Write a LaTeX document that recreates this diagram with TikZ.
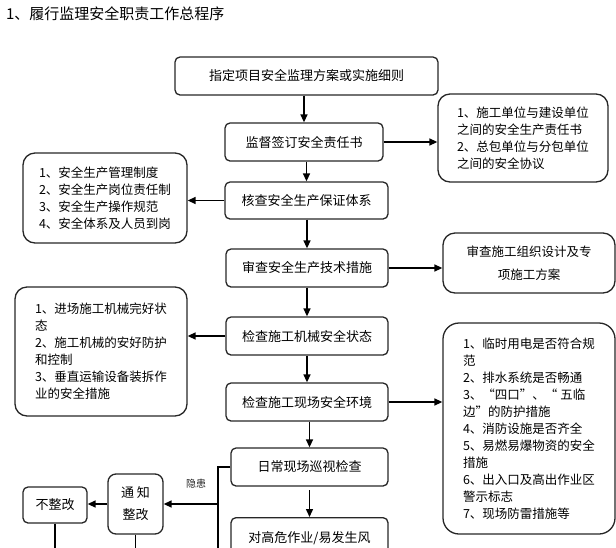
\documentclass[tikz,border=0pt]{standalone}
\usepackage{fontspec}
\setmainfont{Noto Sans CJK SC}
\usetikzlibrary{arrows.meta}

\begin{document}
\begin{tikzpicture}[x=1pt, y=-1pt, line width=1.4pt,
    mainbox/.style={draw=black!85, line width=1.3pt, rounded corners=5pt, inner sep=0pt,
      align=center, font=\fontsize{13}{17}\selectfont},
    sidebox/.style={draw=black!85, line width=1.3pt, rounded corners=12pt, inner sep=0pt,
      align=left, font=\fontsize{12.5}{17}\selectfont},
    arr/.style={-{Triangle[length=8pt, width=7pt]}, line width=1.4pt}]
    \useasboundingbox (0,0) rectangle (616,547);
    \clip (0,0) rectangle (616,547);

    % draw title
    \node[anchor=west, font=\fontsize{15}{18}\selectfont] (title) at (2,14) {1、履行监理安全职责工作总程序};

    % draw main boxes
    \node[mainbox, minimum width=263pt, minimum height=38pt] (plan) at (306.5,76) {指定项目安全监理方案或实施细则};
    \node[mainbox, minimum width=158pt, minimum height=38pt] (sign) at (304,142) {监督签订安全责任书};
    \node[mainbox, minimum width=163pt, minimum height=37pt] (system) at (306.5,200.5) {核查安全生产保证体系};
    \node[mainbox, minimum width=162pt, minimum height=38pt] (tech) at (307,268) {审查安全生产技术措施};
    \node[mainbox, minimum width=162pt, minimum height=38pt] (machine) at (307,336) {检查施工机械安全状态};
    \node[mainbox, minimum width=162pt, minimum height=38pt] (site) at (307,402) {检查施工现场安全环境};
    \node[mainbox, minimum width=157pt, minimum height=38pt] (patrol) at (309.5,467) {日常现场巡视检查};
    \node[mainbox, anchor=north, minimum width=157pt, inner ysep=14pt, text height=11pt, text depth=40pt]
      (risk) at (309.5,517) {对高危作业/易发生风};

    % draw side boxes
    \node[sidebox, minimum width=170pt, minimum height=88pt] (duty) at (523,138)
      {1、施工单位与建设单位\\之间的安全生产责任书\\2、总包单位与分包单位\\之间的安全协议};
    \node[sidebox, minimum width=164pt, minimum height=90pt] (rules) at (105,198)
      {1、安全生产管理制度\\2、安全生产岗位责任制\\3、安全生产操作规范\\4、安全体系及人员到岗};
    \node[sidebox, align=center, minimum width=172pt, minimum height=60pt, font=\fontsize{12.5}{23}\selectfont]
      (design) at (529,263) {审查施工组织设计及专\\项施工方案};
    \node[sidebox, minimum width=172pt, minimum height=129pt] (mstate) at (101,351.5)
      {1、进场施工机械完好状\\态\\2、施工机械的安好防护\\和控制\\3、垂直运输设备装拆作\\业的安全措施};
    \node[sidebox, rounded corners=16pt, minimum width=172pt, minimum height=211pt] (env) at (529,428.5)
      {1、临时用电是否符合规\\范\\2、排水系统是否畅通\\3、“四口”、“ 五临\\边”的防护措施\\4、消防设施是否齐全\\5、易燃易爆物资的安全\\措施\\6、出入口及高出作业区\\警示标志\\7、现场防雷措施等};

    % draw rectification boxes
    \node[mainbox, rounded corners=8pt, minimum width=55pt, minimum height=60pt, font=\fontsize{13}{22}\selectfont]
      (notice) at (135.5,504) {通 知\\整改};
    \node[mainbox, minimum width=64pt, minimum height=36pt] (refuse) at (55,505) {不整改};
    \node[font=\fontsize{10}{12}\selectfont, text=black!85] (hazard) at (196,484) {隐患};

    % draw main flow
    \draw[arr] (sign.north |- plan.south) -- (sign.north);
    \draw[arr] (system.north |- sign.south) -- (system.north);
    \draw[arr] (tech.north |- system.south) -- (tech.north);
    \draw[arr] (machine.north |- tech.south) -- (machine.north);
    \draw[arr] (site.north |- machine.south) -- (site.north);
    \draw[arr] (patrol.north |- site.south) -- (patrol.north);
    \draw[arr] (risk.north |- 0,490) -- (risk.north);

    % draw side arrows
    \draw[arr] (sign.east) -- (sign.east -| duty.west);
    \draw[arr] (system.west) -- (system.west -| rules.east);
    \draw[arr] (tech.east) -- (tech.east -| design.west);
    \draw[arr] (machine.west) -- (machine.west -| mstate.east);
    \draw[arr] (site.east) -- (site.east -| env.west);

    % draw hazard bracket
    \coordinate (hz) at (218,504);
    \draw (patrol.west) -| (hz) |- (risk.west);
    \draw[arr] (hz) -- (notice);
    \draw[arr] (notice.west) -- (notice.west -| refuse.east);
    \draw (refuse.south) -- ++(0,40);
    \draw (notice.south) -- ++(0,40);
\end{tikzpicture}
\end{document}
